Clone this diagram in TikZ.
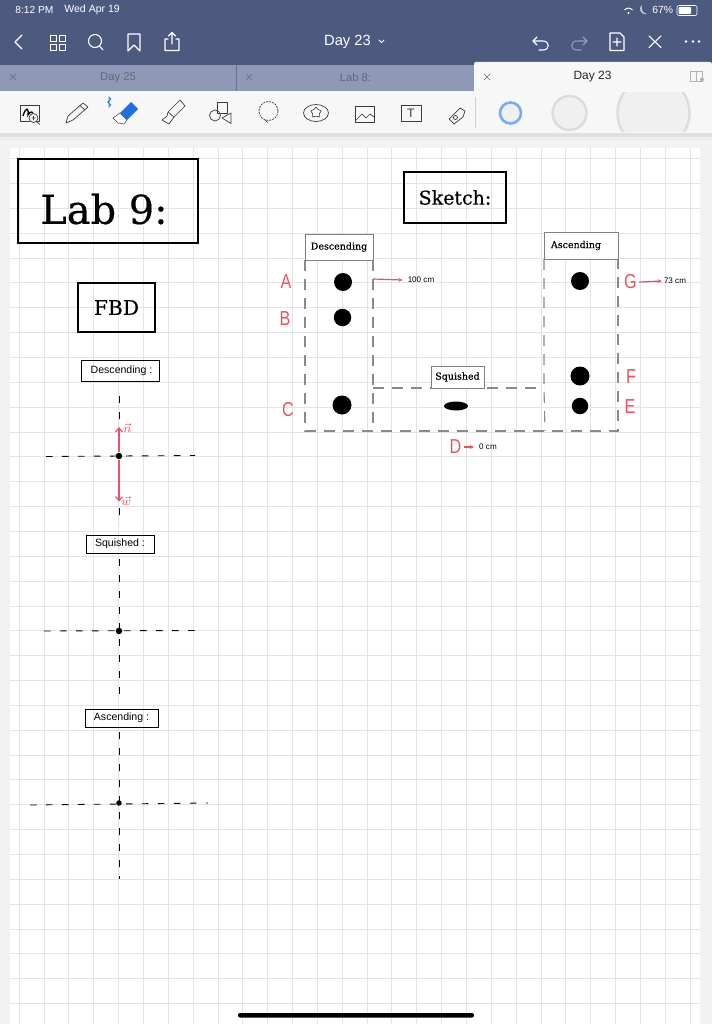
\documentclass[tikz,border=0pt]{standalone}
\usepackage{fontspec}
\setmainfont{Liberation Sans}
\newfontfamily\slab[FakeBold=0.4]{DejaVu Serif}
\newfontfamily\handfont[FakeStretch=0.8]{Liberation Sans}
\usetikzlibrary{arrows,arrows.meta,positioning,shapes.geometric}
\definecolor{barblue}{HTML}{4D5A80}
\definecolor{tabblue}{HTML}{8E99B5}
\definecolor{tabtext}{HTML}{5F6A85}
\definecolor{gridgray}{HTML}{E4E4E4}
\definecolor{inkred}{HTML}{E9535F}
\definecolor{dashgray}{HTML}{8A8A8A}
\definecolor{boxgray}{HTML}{808080}
\definecolor{penblue}{HTML}{1E72E0}
\definecolor{ringblue}{HTML}{74AEF2}
\definecolor{ringgray}{HTML}{DCDCDC}
\definecolor{icongray}{HTML}{3C3C3C}
\def\px{0.02cm}
\begin{document}
\begin{tikzpicture}[x=0.02cm,y=-0.02cm]
\tikzset{
titlebox/.style = {draw=black, line width=1.6*\px, minimum width=180*\px, minimum height=84*\px, inner sep=0pt},
labelbox/.style = {draw=black, line width=1.1*\px, inner sep=0pt},
fbdbox/.style = {draw=black, line width=1*\px, inner sep=0pt, font=\fontsize{6}{6}\selectfont},
sketchbox/.style = {draw=boxgray, line width=0.9*\px, inner sep=0pt, fill=white, font=\fontsize{5.4}{6}\selectfont\slab},
ball/.style = {circle, fill=black, inner sep=0pt},
axis/.style = {black, line width=0.9*\px, dash pattern=on 6.5*\px off 9.5*\px},
wall/.style = {dashgray, line width=1.1*\px, dash pattern=on 11*\px off 8*\px},
letter/.style = {text=inkred, inner sep=0pt, font=\fontsize{11.5}{12}\selectfont\handfont},
cmtext/.style = {inner sep=0pt, font=\fontsize{4.6}{5}\selectfont},
redarrow/.style = {inkred, line width=1.2*\px, -{Stealth[length=4*\px, width=4*\px]}},
forcearrow/.style = {inkred, line width=1.2*\px, -{Straight Barb[length=4*\px, width=7*\px]}},
baricon/.style = {white, line width=1.1*\px, line join=round, line cap=round},
toolicon/.style = {icongray, line width=0.7*\px, line join=round},
bartext/.style = {text=white, inner sep=0pt},
tabtitle/.style = {text=tabtext, inner sep=0pt, font=\fontsize{6.4}{6}\selectfont}}

\useasboundingbox (0,0) rectangle (712,1024);
% page and grid
\fill[white!95!black] (0,0) rectangle (712,1024);
\fill[white] (10,148) rectangle (700,1024);
\foreach \gx in {0,...,27} \draw[gridgray, line width=0.6*\px] ({19+24.85*\gx},148) -- ({19+24.85*\gx},1024);
\foreach \gy in {0,...,35} \draw[gridgray, line width=0.6*\px] (10,{158.5+24.85*\gy}) -- (700,{158.5+24.85*\gy});

% top bars
\fill[barblue] (0,0) rectangle (712,65);
\fill[tabblue] (0,65) rectangle (474,91);
\draw[barblue!85!white, line width=0.6*\px] (236.5,65) -- (236.5,91);
\fill[white!97!black] (0,91) rectangle (712,133);
\fill[white!97!black, rounded corners=2*\px] (474,91) -- (474,62) -- (712,62) -- (712,91) -- cycle;
\fill[white!88!black] (0,133) rectangle (712,137);
\fill[white!93!black] (0,137) rectangle (712,140);

\node[bartext, anchor=west, font=\fontsize{5.8}{6}\selectfont] (clock) at (15,10) {8:12 PM};
\node[bartext, anchor=west, font=\fontsize{6}{6}\selectfont] (date) at (64,10) {Wed Apr 19};
\node[bartext, anchor=west, font=\fontsize{5.9}{6}\selectfont] (battery) at (652,10) {67\%};
\node[bartext, font=\fontsize{8.4}{8}\selectfont] (daytitle) at (347.5,41.5) {Day 23};
\node[tabtitle] (tab25) at (118,77.5) {Day 25};
\node[tabtitle] (tab8) at (355.5,77.5) {Lab 8:};
\node[tabtitle, text=black!85, font=\fontsize{6.8}{7}\selectfont] (tab23) at (592.5,77) {Day 23};

% tab crosses
\foreach \cx in {13,249,487} \draw[tabtext, line width=0.6*\px] (\cx-3,74) -- (\cx+3,80) (\cx-3,80) -- (\cx+3,74);

% status icons
\draw[white, line width=0.6*\px, rounded corners=2*\px] (677,5.5) rectangle (697,15.5);
\fill[white, rounded corners=1*\px] (678.5,7) rectangle (691,14);
\fill[white] (628.5,13) circle (1.2);
\draw[white, line width=1*\px] (624.5,10) .. controls (627,7.5) and (630,7.5) .. (632.5,10);
\fill[white!70!barblue] (642,5) .. controls (638,8) and (640,15) .. (647,14) .. controls (642,13) and (641,9) .. (642,5);

% bar icons, left
\draw[baricon, line width=1.4*\px] (22,35) -- (15,42) -- (22,49);
\foreach \ix/\iy in {50/35,59/35,50/44,59/44} \draw[baricon, line width=0.9*\px] (\ix,\iy) rectangle ++(6.5,6.5);
\draw[baricon] (95,41) circle (6.5) (99.5,46) -- (103,50);
\draw[baricon] (128,34) -- (140,34) -- (140,51) -- (134,45) -- (128,51) -- cycle;
\draw[baricon] (168,39) -- (165,39) -- (165,50.5) -- (179,50.5) -- (179,39) -- (176,39) (172,44) -- (172,33) (168.5,36) -- (172,32.5) -- (175.5,36);
\draw[baricon, line width=0.9*\px] (379,40) -- (381.5,42.5) -- (384,40);

% bar icons, right
\draw[baricon] (537,37) -- (533,41) -- (537,45) (533,41) -- (543,41) .. controls (550,41) and (550,50) .. (543,50) -- (539,50);
\draw[baricon, white!40!barblue] (583,37) -- (587,41) -- (583,45) (587,41) -- (577,41) .. controls (570,41) and (570,50) .. (577,50) -- (581,50);
\draw[baricon] (610,33) -- (620,33) -- (624,37) -- (624,50.5) -- (610,50.5) -- cycle (617,38) -- (617,46) (613,42) -- (621,42);
\draw[baricon] (649,36) -- (661,47.5) (661,36) -- (649,47.5);
\foreach \dx in {686,693,699} \fill[white] (\dx,41.5) circle (1.4);

% toolbar icons
\draw[toolicon] (20,105) rectangle (39,121);
\draw[black, line width=1.3*\px] (23,116) .. controls (26,106) and (29,108) .. (28,115) .. controls (31,110) and (33,112) .. (33,115);
\fill[white!97!black] (33.5,118) circle (5);
\draw[toolicon] (33.5,118) circle (4.5) (36.5,121.5) -- (40,124.5) (31.5,118) -- (35.5,118) (33.5,116) -- (33.5,120);
\draw[toolicon] (66,123) -- (68,116) -- (83,103) -- (88,107) -- (73,120) -- cycle;
\draw[toolicon] (80,105.5) -- (85,110);
\fill[white, draw=icongray, line width=0.5*\px] (113,118) -- (118,123) -- (124,124) -- (127,120) -- (120,113) -- cycle;
\fill[penblue] (120,113) -- (131,102) -- (138,109) -- (127,120) -- cycle;
\draw[penblue, line width=0.7*\px] (107.5,102) -- (111,105) -- (109,107) -- (109,97) -- (111,99) -- (107.5,102);
\draw[toolicon] (162,120) -- (169,124) -- (174,117) -- (185,106) -- (180,100) -- (168,112) -- (167,116) -- cycle;
\draw[toolicon] (168,112) -- (174,117);
\draw[toolicon] (217,102.5) rectangle (227,113);
\draw[toolicon] (215,115.5) circle (5.5);
\draw[toolicon] (231,113) -- (231,123.5) -- (222,118) -- cycle;
\draw[toolicon, dash pattern=on 2*\px off 1*\px] (268.5,111) circle (9.5);
\draw[toolicon] (265,120) -- (268,123);
\draw[toolicon] (316,113) ellipse (12.5 and 8.5);
\node[star, star points=5, draw=icongray, line width=0.6*\px, inner sep=0pt, minimum size=11*\px] (staricon) at (316,112.5) {};
\draw[toolicon] (355,106) rectangle (374,122);
\draw[toolicon] (356,120) -- (362,114) -- (366,118) -- (370,114) -- (374,117);
\draw[toolicon] (401,105) rectangle (421,121);
\node[text=icongray, inner sep=0pt, font=\fontsize{7}{7}\selectfont] (texticon) at (411,113) {T};
\draw[toolicon] (449,119) -- (460,108) -- (465,111) -- (463,117) -- (454,124) -- cycle;
\draw[toolicon] (455.5,117.5) circle (2);
\draw[white!80!black, line width=0.5*\px] (475.5,97) -- (475.5,128);

% pen circles
\draw[ringblue, line width=2.6*\px, fill=white!94!black] (510.5,113) circle (10.5);
\draw[ringgray, line width=2.4*\px, fill=white!94!black] (569.5,113) circle (17);
\begin{scope}
\clip (600,93) rectangle (712,131);
\draw[ringgray, line width=2.4*\px, fill=white!94!black] (653.5,113) circle (36);
\end{scope}
\draw[white!70!black, line width=0.5*\px] (690,71) rectangle (702,81) (696,71) -- (696,81);
\fill[white!70!black] (702,79.5) circle (2);

% titles
\node[titlebox] (lab) at (108,201) {};
\node[inner sep=0pt, font=\fontsize{22.7}{23}\selectfont\slab] (labtext) at (104,209) {Lab 9:};
\node[labelbox, minimum width=77*\px, minimum height=49*\px, font=\fontsize{11.5}{12}\selectfont\slab] (fbd) at (116.5,307.5) {FBD};
\node[labelbox, minimum width=102*\px, minimum height=51*\px, font=\fontsize{10.8}{11}\selectfont\slab] (sketch) at (455,197.5) {Sketch:};

% free body diagrams
\node[fbdbox, minimum width=78*\px, minimum height=21*\px] (desc) at (120,370.5) {\hspace{0.06cm}Descending :};
\node[fbdbox, minimum width=68*\px, minimum height=18*\px] (squi) at (120,544) {Squished :};
\node[fbdbox, minimum width=73*\px, minimum height=18*\px] (asce) at (121.5,718) {Ascending :};

\node[ball, minimum size=6.5*\px] (c1) at (119,456) {};
\node[ball, minimum size=6.5*\px] (c2) at (119,631) {};
\node[ball, minimum size=5.5*\px] (c3) at (119,803) {};

\coordinate (c1n) at (119,396);
\coordinate (c1s) at (119,524);
\coordinate (c1w) at (46,456.5);
\coordinate (c1e) at (195,455.5);
\coordinate (c2n) at (119,559);
\coordinate (c2s) at (119,700);
\coordinate (c2w) at (44,631);
\coordinate (c2e) at (195,630.5);
\coordinate (c3n) at (119,732);
\coordinate (c3s) at (119,879);
\coordinate (c3w) at (30,805);
\coordinate (c3e) at (208,803);

\draw[axis] (c1n) -- (c1s);
\draw[axis] (c1w) -- (c1e);
\draw[axis] (c2n) -- (c2s);
\draw[axis] (c2w) -- (c2e);
\draw[axis] (c3n) -- (c3s);
\draw[axis] (c3w) -- (c3e);

\coordinate (ntip) at (119,427);
\coordinate (wtip) at (119,501.5);
\draw[forcearrow] (c1) -- (ntip);
\draw[forcearrow] (c1) -- (wtip);
\node[text=inkred, inner sep=0pt, font=\fontsize{7}{7}\selectfont] (nlabel) at (127.5,428) {$\vec{n}$};
\node[text=inkred, inner sep=0pt, font=\fontsize{7}{7}\selectfont] (wlabel) at (126,501) {$\vec{w}$};

% sketch
\coordinate (dtl) at (305,260);
\coordinate (dtr) at (373,260);
\coordinate (dbl) at (305,431);
\coordinate (dbm) at (373,431);
\coordinate (mtl) at (373,388);
\coordinate (mtr) at (544,388);
\coordinate (atl) at (544,259);
\coordinate (atr) at (618,259);
\coordinate (abr) at (618,431);
\coordinate (abm) at (545,431);

\draw[wall] (dtl) -- (dbl) -- (abr) -- (atr);
\draw[wall] (dtr) -- (dbm);
\draw[wall] (mtl) -- (mtr);
\draw[wall] (atl) -- (mtr) -- (abm);

\node[sketchbox, minimum width=68*\px, minimum height=26*\px] (sdesc) at (339,247) {Descending};
\node[sketchbox, minimum width=74*\px, minimum height=27*\px] (sasce) at (581,245.5) {Ascending\hspace{0.2cm}\mbox{}};
\node[sketchbox, minimum width=53*\px, minimum height=22*\px] (ssqui) at (457.5,377) {Squished};

\node[ball, minimum size=18*\px] (ballA) at (343,282) {};
\node[ball, minimum size=17.5*\px] (ballB) at (342.5,317.5) {};
\node[ball, minimum size=19*\px] (ballC) at (342,405) {};
\node[ellipse, fill=black, inner sep=0pt, minimum width=24*\px, minimum height=9*\px] (ballD) at (456,406) {};
\node[ball, minimum size=18*\px] (ballG) at (580,281) {};
\node[ball, minimum size=19*\px] (ballF) at (580,376) {};
\node[ball, minimum size=16.5*\px] (ballE) at (580,406) {};

\node[letter] (lA) at (286,282) {A};
\node[letter] (lB) at (285,319) {B};
\node[letter] (lC) at (288,410) {C};
\node[letter] (lD) at (455.5,447) {D};
\node[letter] (lE) at (630,407) {E};
\node[letter] (lF) at (631,377) {F};
\node[letter] (lG) at (630.5,282) {G};

\coordinate (top100) at (373,279);
\node[cmtext] (cm100) at (421,280) {100 cm};
\node[cmtext] (cm73) at (675,281) {73 cm};
\node[cmtext] (cm0) at (488,447) {0 cm};
\draw[redarrow] (top100) -- ([xshift=-5*\px]cm100.west);
\draw[redarrow] ([xshift=2*\px]lG.east) -- ([xshift=-2*\px]cm73.west);
\draw[redarrow] ([xshift=2*\px]lD.east) -- ([xshift=-5*\px]cm0.west);

% home bar
\fill[black, rounded corners=2*\px] (238,1013) rectangle (474,1017.5);
\end{tikzpicture}
\end{document}
